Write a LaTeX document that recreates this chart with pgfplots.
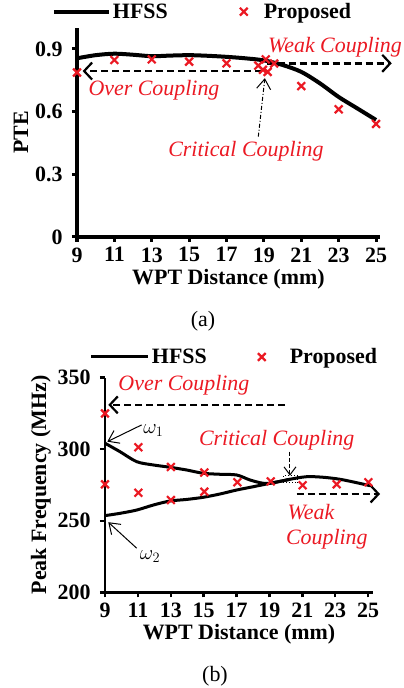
\documentclass[border=0pt]{standalone}
\usepackage{fontspec}
\setmainfont{Liberation Serif}
\usepackage{pgfplots}
\pgfplotsset{compat=1.18}
\usetikzlibrary{arrows.meta}
\definecolor{myred}{RGB}{235,25,35}
\newcommand{\fs}{\fontsize{22}{25}\selectfont}
\pgfplotsset{
  lineA/.style={legend image code/.code={\draw[##1] (0bp,0bp) -- (55bp,0bp);}},
  markA/.style={legend image code/.code={\draw[##1] plot coordinates {(9bp,0bp)}; \path[draw=none,fill=none] (0bp,0bp) rectangle (27bp,0.1bp);}},
  lineB/.style={legend image code/.code={\draw[##1] (0bp,0bp) -- (57bp,0bp);}},
  markB/.style={legend image code/.code={\draw[##1] plot coordinates {(9bp,0bp)}; \path[draw=none,fill=none] (0bp,0bp) rectangle (35bp,0.1bp);}},
  myaxis/.style={
    scale only axis, anchor=south west, axis lines=left,
    tick align=outside, major tick length=5bp,
    xtick={9,11,...,25},
    tick label style={font=\fs\bfseries},
    yticklabel style={xshift=-6bp},
    xticklabel style={yshift=-2bp},
    /pgf/number format/assume math mode=true,
    label style={font=\fs\bfseries},
    clip=false,
    legend style={draw=none, fill=none, font=\fs\bfseries, inner sep=0pt, outer sep=0pt},
    legend cell align=left,
    legend columns=2,
  },
}
\tikzset{
  dasharrow/.style={line width=2.5bp, dash pattern=on 7bp off 4bp, -{Straight Barb[length=8bp,width=17bp,line width=2.2bp]}},
  thinarrow/.style={line width=1bp, -{Straight Barb[length=10bp,width=14bp,line width=1bp]}},
}
\begin{document}
\begin{tikzpicture}
\useasboundingbox (0,0) rectangle (404bp,688bp);
% ---------- (a) ----------
\begin{axis}[myaxis, at={(77bp,451bp)}, width=302.8bp, height=209bp,
  xmin=9, xmax=25.2, ymin=0, ymax=1,
  axis line style={-, line width=3.5bp}, tick style={line width=3bp, black},
  ytick={0,0.3,0.6,0.9}, yticklabels={0,0.3,0.6,0.9},
  xlabel={WPT Distance (mm)}, ylabel={PTE},
  legend style={at={(axis description cs:-0.0826,1.078)}, anchor=west,
    /tikz/every even column/.append style={column sep=65bp}}]
\addplot[black, line width=4bp, smooth, lineA]
  coordinates {(9,0.855)(10,0.87)(11,0.877)(12,0.872)(13,0.865)(14,0.868)(15,0.87)(16,0.867)(17,0.862)(18,0.855)(19,0.845)(20,0.823)(21,0.79)(22,0.735)(23,0.67)(24,0.615)(25,0.56)};
\addlegendentry{HFSS}
\addplot[only marks, mark=x, mark size=5.5bp, myred, mark options={line width=2.2bp}, markA]
  coordinates {(9,0.787)(11,0.847)(13,0.85)(15,0.839)(17,0.831)(18.7,0.82)(18.95,0.80)(19.2,0.79)(19.1,0.85)(19.55,0.83)(21,0.722)(23,0.611)(25,0.541)};
\addlegendentry{Proposed}
\draw[dasharrow] (axis cs:18.88,0.794) -- (axis cs:9.3,0.794);
\draw[dasharrow] (axis cs:19.15,0.831) -- (axis cs:25.84,0.831);
\draw[line width=1bp, dash pattern=on 4bp off 2bp on 1bp off 2bp, -{Straight Barb[length=10bp,width=14bp,line width=1bp]}] (axis cs:18.7,0.48) -- (axis cs:19.05,0.76);
\node[myred, font=\fs\itshape] at (axis cs:22.8,0.909) {Weak Coupling};
\node[myred, font=\fs\itshape] at (axis cs:13.12,0.70) {Over Coupling};
\node[myred, font=\fs\itshape] at (axis cs:18.04,0.408) {Critical Coupling};
\end{axis}
% ---------- (b) ----------
\begin{axis}[myaxis, at={(105bp,95.7bp)}, width=268bp, height=214.6bp,
  xmin=9, xmax=25.3, ymin=200, ymax=350,
  axis line style={-, line width=2.5bp}, tick style={line width=2.5bp, black},
  ytick={200,250,300,350},
  xlabel={WPT Distance (mm)}, ylabel={Peak Frequency (MHz)},
  legend style={at={(axis description cs:-0.056,1.0965)}, anchor=west,
    /tikz/every even column/.append style={column sep=44bp}}]
\addplot[black, line width=3bp, smooth, lineB]
  coordinates {(9,304.2)(9.91,298.3)(10.93,291.3)(11.94,289)(12.95,287.4)(13.96,285.5)(14.97,283.2)(15.99,282.5)(17.01,282)(17.82,278.5)(18.63,276.2)(19.24,276.6)(20.25,279)(21.27,280.8)(22.28,280.4)(23.29,279)(24.31,276.6)(25.12,274.5)};
\addlegendentry{HFSS}
\addplot[only marks, mark=x, mark size=5.5bp, myred, mark options={line width=2.2bp}, markB]
  coordinates {(9,325)(9,275.5)(11.03,301.4)(11.03,269.6)(13.01,287.6)(13.01,264.5)(15.04,283.7)(15.04,270.3)(17.05,276.9)(19.08,277.5)(21.02,274.8)(23.09,275.5)(25.02,276.9)};
\addlegendentry{Proposed}
\addplot[black, line width=3bp, smooth, forget plot]
  coordinates {(9,253.6)(9.91,255.2)(10.93,257.5)(11.94,261)(12.95,263.8)(13.96,264.9)(14.97,266.4)(15.99,268.7)(17.01,271.5)(18.02,273.8)(19.04,276.2)(19.85,278)(20.25,279)};
\draw[dasharrow] (axis cs:19.95,331) -- (axis cs:9.2,331);
\draw[dasharrow] (axis cs:20.66,268.7) -- (axis cs:25.73,268.7);
\draw[line width=1bp, dash pattern=on 4bp off 2bp, -{Straight Barb[length=8bp,width=12bp,line width=1bp]}] (axis cs:20.25,298.3) -- (axis cs:20.25,281.5);
\draw[line width=1bp, dotted] (axis cs:19.85,276.5) rectangle (axis cs:20.7,281.5);
\draw[thinarrow] (axis cs:11.23,317) -- (axis cs:9.14,305.3);
\draw[thinarrow] (axis cs:10.93,230.8) -- (axis cs:9.2,249);
\node[font=\fs] at (axis cs:11.94,313) {$\omega_1$};
\node[font=\fs] at (axis cs:11.74,225) {$\omega_2$};
\node[myred, font=\fs\itshape] at (axis cs:13.8,344.9) {Over Coupling};
\node[myred, font=\fs\itshape] at (axis cs:19.44,306.5) {Critical Coupling};
\node[myred, font=\fs\itshape, anchor=west, inner sep=0pt] at (axis cs:20.1,256.4) {Weak};
\node[myred, font=\fs\itshape, anchor=west, inner sep=0pt] at (axis cs:20.0,237.2) {Coupling};
\end{axis}
\node[font=\fs] at (203bp,367bp) {(a)};
\node[font=\fs] at (215bp,11.3bp) {(b)};
\end{tikzpicture}
\end{document}
